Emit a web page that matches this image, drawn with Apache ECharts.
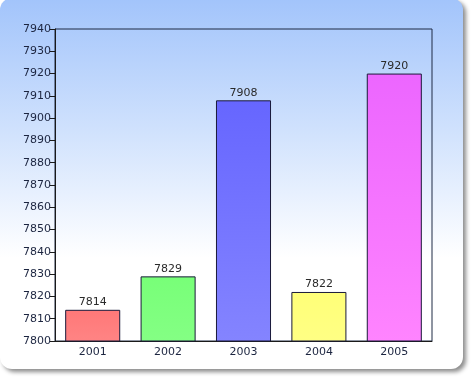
<!DOCTYPE html>
<html><head><meta charset="utf-8">
<script src="https://cdn.jsdelivr.net/npm/echarts@6/dist/echarts.min.js"></script>
<style>html,body{margin:0;padding:0;background:#fff;}#c{width:474px;height:379px;}</style>
</head><body><div id="c"></div>
<script>
var categories = ['2001', '2002', '2003', '2004', '2005'];
var values = [7814, 7829, 7908, 7822, 7920];
var barTop = ['#ff7878', '#78ff78', '#6666ff', '#ffff78', '#ec66ff'];
var barBottom = ['#ff8484', '#84ff84', '#8484ff', '#ffff84', '#ff84ff'];

var chart = echarts.init(document.getElementById('c'), null, {renderer: 'canvas'});
var grad = function (a, b) {
  return new echarts.graphic.LinearGradient(0, 0, 0, 1, [{offset: 0, color: a}, {offset: 1, color: b}]);
};
chart.setOption({
  animation: false,
  backgroundColor: '#ffffff',
  graphic: [{
    type: 'rect', z: -10, silent: true,
    shape: {x: 0, y: -2, width: 463, height: 371, r: 12},
    style: {
      fill: new echarts.graphic.LinearGradient(0, 0, 0, 1, [
        {offset: 0, color: '#a2c4fb'}, {offset: 0.35, color: '#cfe1fd'}, {offset: 0.7, color: '#ffffff'}, {offset: 1, color: '#ffffff'}]),
      shadowColor: 'rgba(0,0,0,0.45)', shadowBlur: 4, shadowOffsetX: 3, shadowOffsetY: 3
    }
  }, {
    type: 'rect', z: -5, silent: true,
    shape: {x: 55, y: 29, width: 377, height: 312},
    style: {fill: 'none', stroke: '#1f2b45', lineWidth: 1}
  }],
  grid: {left: 55, right: 42, top: 29, bottom: 38, containLabel: false},
  xAxis: {
    type: 'category', data: categories,
    axisLine: {lineStyle: {color: '#1a1a1a', width: 1}},
    axisTick: {alignWithLabel: true, length: 4, lineStyle: {color: '#333'}},
    axisLabel: {color: '#1c2540', fontFamily: 'DejaVu Sans', fontSize: 11, margin: 6}
  },
  yAxis: {
    type: 'value', min: 7800, max: 7940, interval: 10,
    axisLine: {show: true, lineStyle: {color: '#1a1a1a', width: 1}},
    axisTick: {show: true, length: 5, lineStyle: {color: '#1a1a1a'}},
    splitLine: {show: false},
    axisLabel: {color: '#1c2540', fontFamily: 'DejaVu Sans', fontSize: 11, margin: 4,
      formatter: function (v) { return String(v); }}
  },
  series: [{
    type: 'bar', barWidth: '73%',
    data: values.map(function (v, i) {
      return {value: v, itemStyle: {color: grad(barTop[i], barBottom[i]), borderColor: '#1a1a3a', borderWidth: 1}};
    }),
    label: {show: true, position: 'top', distance: 2, color: '#2a2a2a', fontFamily: 'DejaVu Sans', fontSize: 11}
  }]
});
</script></body></html>
